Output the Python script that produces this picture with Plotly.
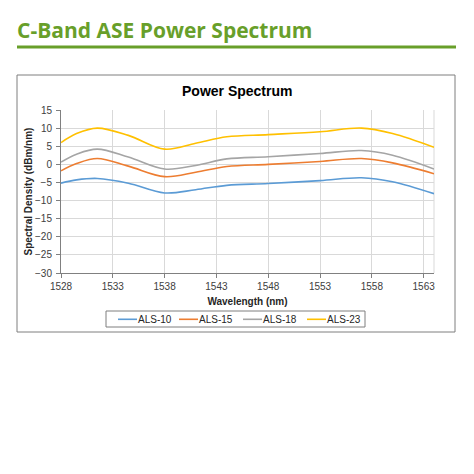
import plotly.graph_objects as go

# wavelength samples (nm) and spectral density (dBm/nm)
wavelength = [1528, 1529.5, 1531.5, 1534.5, 1538, 1541, 1544, 1548, 1553, 1557, 1560, 1564]
als_10 = [-5.2, -4.3, -3.9, -5.2, -7.9, -7.0, -5.8, -5.3, -4.5, -3.7, -4.8, -8.1]
als_15 = [-1.8, 0.2, 1.6, -0.5, -3.4, -2.2, -0.6, 0.0, 0.8, 1.6, 0.4, -2.6]
als_18 = [0.6, 2.8, 4.2, 2.0, -1.3, -0.3, 1.5, 2.1, 3.0, 3.8, 2.5, -1.3]
als_23 = [6.0, 8.5, 10.0, 8.0, 4.2, 5.8, 7.6, 8.2, 9.0, 10.0, 8.5, 4.7]

series_names = ['ALS-10', 'ALS-15', 'ALS-18', 'ALS-23']
series_colors = ['#5b9bd5', '#ed7d31', '#a5a5a5', '#ffc000']
x_ticks = [1528, 1533, 1538, 1543, 1548, 1553, 1558, 1563]
y_ticks = [15, 10, 5, 0, -5, -10, -15, -20, -25, -30]

W, H = 474, 474
L, R, T, B = 61, 40, 110, 201
PW, PH = W - L - R, H - T - B


def px(x):
    return (x - L) / PW


def py(y):
    return (H - B - y) / PH


FONT = 'Liberation Sans, Arial, sans-serif'
GREEN = '#689f2a'

fig = go.Figure()
for name, vals, col in zip(series_names, [als_10, als_15, als_18, als_23], series_colors):
    fig.add_trace(go.Scatter(x=wavelength, y=vals, name=name, mode='lines', showlegend=False,
                             line=dict(color=col, width=1.6, shape='spline', smoothing=1.0)))

fig.update_xaxes(range=[1528, 1564], tickvals=x_ticks, showgrid=True, gridcolor='#d9d9d9',
                 showline=True, linecolor='#808080', ticks='outside', ticklen=4, tickcolor='#808080',
                 tickfont=dict(family=FONT, size=10, color='#404040'), zeroline=False,
                 title=dict(text='<b>Wavelength (nm)</b>', font=dict(family=FONT, size=10, color='#262626'),
                            standoff=6))
fig.update_yaxes(range=[-30, 15], tickvals=y_ticks, showgrid=True, gridcolor='#d9d9d9',
                 showline=True, linecolor='#808080', ticks='outside', ticklen=4, tickcolor='#808080',
                 tickfont=dict(family=FONT, size=10, color='#404040'), zeroline=False,
                 ticklabelstandoff=2,
                 title=dict(text='<b>Spectral Density (dBm/nm)</b>', font=dict(family=FONT, size=10, color='#262626'),
                            standoff=0))

shapes = [
    # green rule under the heading
    dict(type='line', xref='paper', yref='paper', x0=px(17), x1=px(456), y0=py(47), y1=py(47),
         line=dict(color=GREEN, width=3)),
    # chart frame
    dict(type='rect', xref='paper', yref='paper', x0=px(17), x1=px(455), y0=py(75), y1=py(332),
         line=dict(color='#7f7f7f', width=1), layer='below'),
    # right edge of the plot area
    dict(type='line', xref='x domain', yref='y domain', x0=1, x1=1, y0=0, y1=1,
         line=dict(color='#d9d9d9', width=1), layer='below'),
    # legend box
    dict(type='rect', xref='paper', yref='paper', x0=px(106), x1=px(365), y0=py(311), y1=py(327),
         line=dict(color='#7f7f7f', width=1), fillcolor='white'),
]
annotations = [dict(text='<b>Power Spectrum</b>', xref='paper', yref='paper', x=px(237), y=py(91),
                    showarrow=False, xanchor='center', yanchor='middle',
                    font=dict(family=FONT, size=14, color='#000000'))]

# legend drawn by hand, Excel style: short line then name
legend_x = [118, 179, 243, 307]
ly = py(319.3)
for name, col, lx in zip(series_names, series_colors, legend_x):
    shapes.append(dict(type='line', xref='paper', yref='paper', x0=px(lx), x1=px(lx + 19), y0=ly, y1=ly,
                       line=dict(color=col, width=1.6)))
    annotations.append(dict(text=name, xref='paper', yref='paper', x=px(lx + 19), y=ly, showarrow=False,
                            xanchor='left', yanchor='middle', xshift=-1,
                            font=dict(family=FONT, size=10, color='#262626')))

fig.update_layout(
    width=W, height=H, margin=dict(l=L, r=R, t=T, b=B),
    paper_bgcolor='white', plot_bgcolor='white',
    title=dict(text='<b>C-Band ASE Power Spectrum</b>', xref='container', yref='container',
               x=17 / W, xanchor='left', y=1 - 31 / H, yanchor='middle',
               font=dict(family='Open Sans, sans-serif', size=21, color=GREEN)),
    showlegend=False,
    annotations=annotations,
    shapes=shapes,
)

# drop the browser's default page margin so the figure sits at the window's corner
fig.write_html('out.html', config={'displayModeBar': False},
               post_script="document.body.style.margin='0';")
